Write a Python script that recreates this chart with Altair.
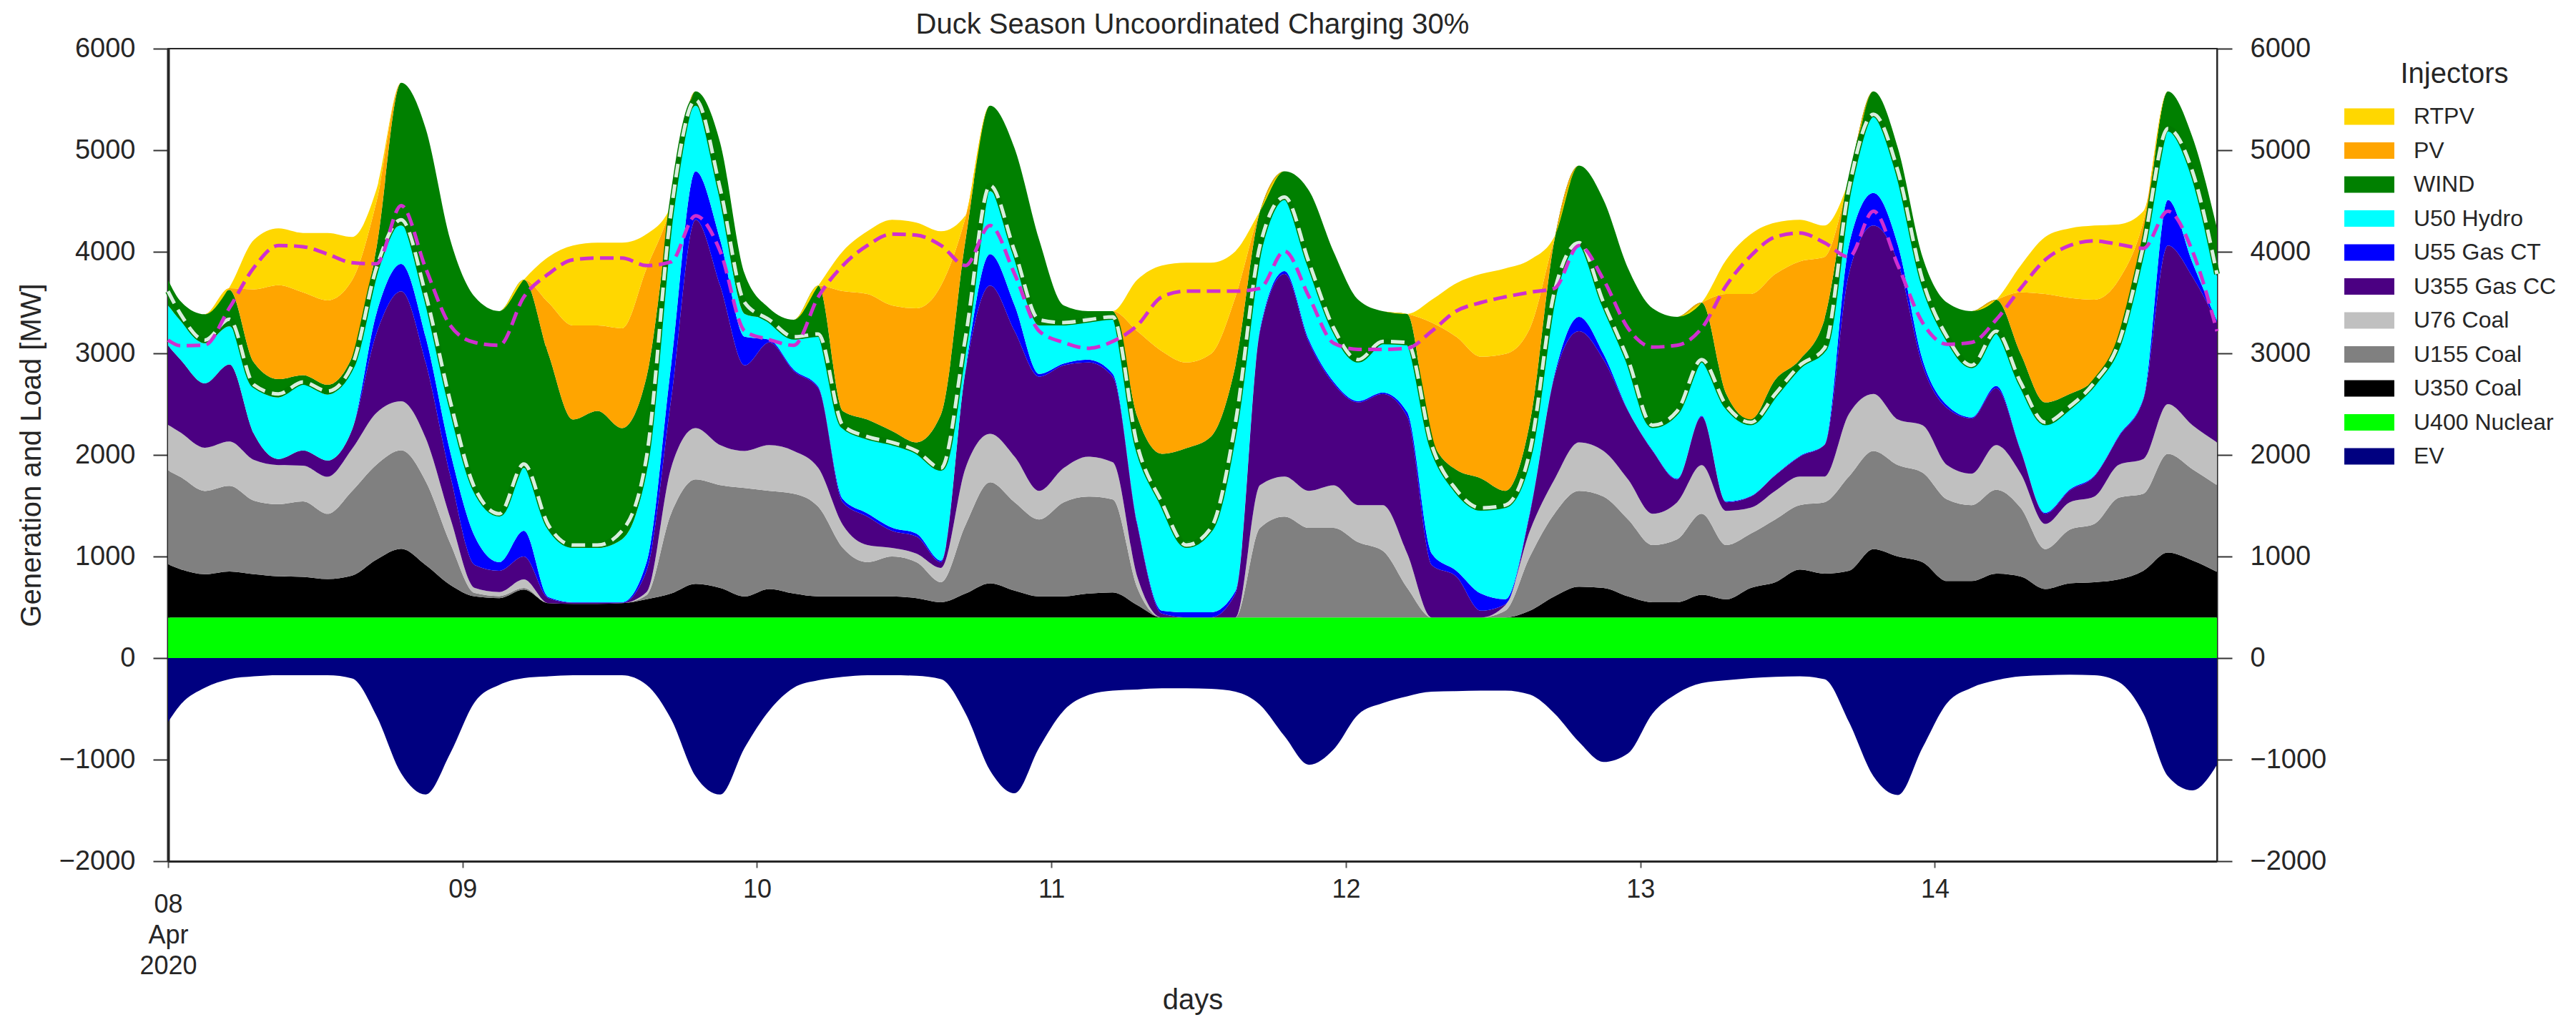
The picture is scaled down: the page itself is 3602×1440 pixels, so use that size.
import altair as alt
import pandas as pd
import numpy as np

hours = [0, 1] + list(range(3, 168, 2))

# cumulative stack tops (MW)
top_u350 = ([923, 875, 825, 852, 826, 805, 800, 778, 812, 970, 1075, 915, 720]
            + [607, 590, 674, 540, 534, 534, 540, 579, 635, 730, 691, 607]
            + [680, 635, 607, 607, 607, 607, 590, 550, 635, 736, 663, 607]
            + [607, 635, 646, 522, 400, 400, 400, 400, 400, 400, 400, 400]
            + [400, 400, 400, 400, 400, 400, 400, 466, 607, 702, 691, 607]
            + [550, 550, 624, 579, 691, 747, 871, 831, 860, 1073, 1000, 944]
            + [758, 758, 831, 803, 680, 736, 747, 775, 860, 1039, 961, 848])
top_u155 = ([1845, 1783, 1645, 1695, 1550, 1515, 1542, 1420, 1645, 1905, 2045, 1740, 1130]
            + [640, 610, 690, 540, 534, 534, 540, 620, 1421, 1758, 1702, 1674]
            + [1646, 1618, 1489, 1084, 944, 1000, 944, 747, 1309, 1730, 1534, 1365]
            + [1534, 1590, 1562, 690, 400, 400, 400, 400, 1281, 1393, 1281, 1281]
            + [1140, 1056, 691, 400, 400, 400, 466, 1000, 1421, 1646, 1590, 1365]
            + [1112, 1169, 1421, 1112, 1225, 1365, 1506, 1534, 1787, 2039, 1899, 1826]
            + [1562, 1506, 1657, 1478, 1073, 1264, 1320, 1579, 1618, 2011, 1860, 1702])
top_u76 = ([2298, 2222, 2071, 2132, 1950, 1900, 1895, 1785, 2060, 2415, 2528, 2165, 1380]
           + [690, 650, 775, 540, 534, 534, 540, 650, 1871, 2264, 2096, 2039]
           + [2096, 2039, 1871, 1309, 1112, 1084, 1028, 888, 1871, 2208, 1983, 1646]
           + [1871, 1983, 1927, 800, 400, 400, 400, 400, 1702, 1787, 1646, 1700]
           + [1506, 1506, 1028, 400, 400, 400, 522, 1253, 1758, 2124, 2039, 1758]
           + [1421, 1534, 1899, 1449, 1480, 1646, 1787, 1787, 2404, 2601, 2348, 2292]
           + [1899, 1815, 2096, 1815, 1320, 1534, 1590, 1904, 1960, 2500, 2292, 2124])
top_u355 = ([3075, 2940, 2704, 2890, 2208, 1960, 2044, 1945, 2250, 3200, 3611, 2910, 1800]
            + [916, 860, 1000, 590, 545, 545, 545, 860, 2545, 4315, 3668, 2882]
            + [3107, 2826, 2657, 1534, 1393, 1253, 1197, 944, 2826, 3668, 3219, 2770]
            + [2882, 2910, 2770, 1309, 438, 400, 400, 635, 3219, 3781, 3107, 2700]
            + [2517, 2601, 2376, 916, 803, 466, 530, 1421, 2770, 3219, 2938, 2432]
            + [2039, 1758, 2376, 1534, 1590, 1800, 1983, 2096, 3781, 4258, 3893, 2882]
            + [2461, 2360, 2657, 2039, 1421, 1650, 1787, 2180, 2545, 4062, 3753, 3303])
top_u55 = ([3075, 2940, 2704, 2890, 2208, 1960, 2044, 1945, 2250, 3400, 3880, 3160, 2030]
           + [1197, 944, 1253, 600, 550, 550, 550, 944, 2882, 4792, 4118, 3163]
           + [3135, 2840, 2670, 1565, 1425, 1285, 1225, 960, 2840, 3977, 3472, 2798]
           + [2900, 2938, 2798, 1330, 466, 450, 450, 660, 3240, 3809, 3130, 2720]
           + [2530, 2615, 2420, 1028, 860, 635, 579, 1440, 2790, 3360, 2994, 2440]
           + [2045, 1765, 2385, 1540, 1595, 1805, 1990, 2100, 4062, 4580, 4062, 2938]
           + [2489, 2370, 2680, 2050, 1430, 1660, 1795, 2190, 2560, 4511, 3893, 3320])
top_u50 = ([3474, 3322, 3100, 3266, 2675, 2566, 2704, 2593, 2855, 3860, 4258, 3555, 2530]
           + [1646, 1421, 1871, 1309, 1084, 1084, 1169, 1871, 4287, 5438, 4511, 3388]
           + [3331, 3163, 3191, 2264, 2180, 2124, 2067, 1871, 3219, 4596, 3949, 3275]
           + [3275, 3360, 3360, 2096, 1590, 1140, 1253, 2320, 4062, 4511, 3893, 3230]
           + [2950, 3100, 3090, 2060, 1640, 1460, 1490, 2010, 3590, 4060, 3480, 2920]
           + [2270, 2410, 2920, 2470, 2300, 2580, 2860, 3030, 4600, 5330, 4770, 3700]
           + [3140, 2860, 3200, 2700, 2300, 2460, 2700, 3090, 4040, 5200, 4770, 3760])
top_wind = ([3722, 3516, 3385, 3625, 2910, 2746, 2786, 2690, 2965, 4050, 5663, 5213, 4118]
            + [3556, 3416, 3725, 2994, 2348, 2433, 2264, 2770, 4455, 5579, 5073, 3781]
            + [3444, 3331, 3668, 2432, 2348, 2236, 2124, 2400, 4118, 5438, 5017, 4118]
            + [3472, 3416, 3416, 2376, 2011, 2067, 2180, 2882, 4399, 4792, 4600, 4000]
            + [3528, 3416, 3388, 2150, 1854, 1770, 1646, 2320, 4118, 4848, 4511, 3837]
            + [3444, 3360, 3500, 2601, 2348, 2742, 2938, 3331, 4700, 5579, 5017, 3949]
            + [3500, 3416, 3528, 2994, 2517, 2601, 2742, 3135, 4100, 5579, 5129, 4230])
top_pv = ([3722, 3516, 3385, 3640, 3630, 3670, 3600, 3522, 3720, 4500, 5663, 5213, 4118]
          + [3556, 3416, 3725, 3500, 3275, 3275, 3247, 3837, 4455, 5579, 5073, 3781]
          + [3444, 3331, 3668, 3612, 3584, 3472, 3444, 3668, 4340, 5438, 5017, 4118]
          + [3472, 3416, 3416, 3219, 3022, 2910, 2994, 3556, 4399, 4792, 4600, 4000]
          + [3528, 3416, 3388, 3303, 3163, 2966, 2994, 3247, 4130, 4848, 4511, 3837]
          + [3444, 3360, 3500, 3584, 3584, 3781, 3905, 3949, 4700, 5579, 5017, 3949]
          + [3500, 3416, 3528, 3601, 3584, 3545, 3528, 3725, 4300, 5579, 5129, 4230])
top_rtpv = ([3722, 3516, 3385, 3650, 4118, 4230, 4185, 4185, 4146, 4620, 5663, 5213, 4118]
            + [3556, 3416, 3725, 3949, 4062, 4090, 4090, 4174, 4455, 5579, 5073, 3781]
            + [3444, 3331, 3668, 4006, 4202, 4315, 4287, 4202, 4360, 5438, 5017, 4118]
            + [3472, 3416, 3416, 3725, 3865, 3893, 3893, 4006, 4399, 4792, 4600, 4000]
            + [3528, 3416, 3388, 3528, 3691, 3781, 3837, 3921, 4150, 4848, 4511, 3837]
            + [3444, 3360, 3500, 3921, 4174, 4287, 4315, 4258, 4700, 5579, 5017, 3949]
            + [3500, 3416, 3528, 3865, 4146, 4230, 4258, 4270, 4400, 5579, 5129, 4230])
nuclear_mw = [400] * len(hours)

# EV charging (negative injection, MW)
ev_mw = ([-629, -461, -292, -208, -180, -169, -169, -169, -200, -573, -1135, -1343, -938]
         + [-433, -264, -197, -180, -169, -169, -169, -264, -601, -1163, -1343, -882]
         + [-517, -292, -219, -185, -169, -169, -175, -208, -545, -1107, -1331, -882]
         + [-517, -365, -320, -309, -298, -298, -303, -331, -461, -770, -1051, -900]
         + [-556, -444, -376, -331, -326, -320, -320, -360, -545, -826, -1023, -938]
         + [-545, -348, -247, -219, -197, -185, -180, -208, -629, -1163, -1348, -882]
         + [-444, -292, -219, -180, -169, -163, -169, -236, -545, -1163, -1303, -1051])

# load lines (MW)
load_total = ([3611, 3390, 3130, 3336, 2690, 2601, 2718, 2628, 2883, 3850, 4315, 3580, 2530]
              + [1674, 1421, 1910, 1309, 1112, 1112, 1253, 1983, 4399, 5494, 4624, 3500]
              + [3331, 3163, 3191, 2292, 2180, 2124, 2039, 1871, 3163, 4652, 4006, 3331]
              + [3303, 3331, 3360, 2096, 1534, 1112, 1281, 2320, 4062, 4539, 3893, 3250]
              + [2938, 3118, 3107, 2095, 1657, 1478, 1506, 2039, 3612, 4090, 3500, 2938]
              + [2292, 2432, 2938, 2489, 2320, 2601, 2882, 3050, 4624, 5354, 4792, 3725]
              + [3163, 2882, 3219, 2713, 2320, 2478, 2713, 3107, 4062, 5213, 4792, 3781])
load_base = ([3130, 3075, 3082, 3447, 3845, 4062, 4050, 3977, 3893, 3882, 4455, 3837, 3275]
             + [3107, 3079, 3556, 3781, 3921, 3938, 3938, 3865, 3900, 4354, 4006, 3219]
             + [3135, 3079, 3556, 3865, 4062, 4174, 4163, 4062, 3865, 4258, 3781, 3219]
             + [3107, 3050, 3118, 3275, 3556, 3612, 3612, 3612, 3640, 4006, 3556, 3100]
             + [3039, 3039, 3050, 3219, 3416, 3500, 3556, 3601, 3640, 4062, 3725, 3247]
             + [3062, 3079, 3247, 3668, 3960, 4146, 4185, 4090, 3949, 4399, 3865, 3303]
             + [3090, 3107, 3331, 3640, 3921, 4062, 4107, 4073, 4034, 4399, 4006, 3219])

legend_order = ["RTPV", "PV", "WIND", "U50 Hydro", "U55 Gas CT", "U355 Gas CC",
                "U76 Coal", "U155 Coal", "U350 Coal", "U400 Nuclear", "EV"]
legend_colors = ["#FFD700", "#FFA500", "#008000", "#00FFFF", "#0000FF", "#4B0082",
                 "#C0C0C0", "#808080", "#000000", "#00FF00", "#000080"]

day_ticks = [0, 24, 48, 72, 96, 120, 144]
day_labels = ["08", "09", "10", "11", "12", "13", "14"]
first_label = ["08", "Apr", "2020"]

# ---- build area bands (lower / upper boundaries) ----
zeros = np.zeros(len(hours))
stack = [("U400 Nuclear", nuclear_mw), ("U350 Coal", top_u350), ("U155 Coal", top_u155),
         ("U76 Coal", top_u76), ("U355 Gas CC", top_u355), ("U55 Gas CT", top_u55),
         ("U50 Hydro", top_u50), ("WIND", top_wind), ("PV", top_pv), ("RTPV", top_rtpv)]
frames = []
lo = zeros.copy()
for name, top in stack:
    hi = np.maximum(np.array(top, dtype=float), lo)
    frames.append(pd.DataFrame({"hour": hours, "series": name, "lo": lo, "hi": hi}))
    lo = hi
frames.append(pd.DataFrame({"hour": hours, "series": "EV", "lo": ev_mw, "hi": zeros}))
bands = pd.concat(frames, ignore_index=True)

lines = pd.DataFrame({"hour": hours, "load_total": load_total, "load_base": load_base})

FONT = "Liberation Sans"
TXT = "#262626"

label_expr = "datum.value == 0 ? " + str(first_label)
for t, l in zip(day_ticks[1:], day_labels[1:]):
    label_expr += f" : datum.value == {t} ? '{l}'"
label_expr += " : ''"

x_enc = alt.X("hour:Q",
              scale=alt.Scale(domain=[0, 167], nice=False, zero=False),
              axis=alt.Axis(values=day_ticks, labelExpr=label_expr, title="days",
                            grid=False, tickSize=9, tickWidth=2, tickColor="#555",
                            domainWidth=3, domainColor=TXT,
                            labelFontSize=36, labelColor=TXT, labelFont=FONT,
                            labelLineHeight=43, labelFlush=False, labelOverlap=False,
                            labelPadding={"condition": {"test": "datum.value == 0", "value": 34},
                                          "value": 13},
                            titleFontSize=40, titleFontWeight="normal", titleColor=TXT,
                            titleFont=FONT, titlePadding=10))

yscale = alt.Scale(domain=[-2000, 6000], nice=False, zero=False)
yvals = list(range(-2000, 6001, 1000))

left_axis = alt.Axis(values=yvals, format="d", grid=False, tickSize=21, tickWidth=2,
                     tickColor="#333", domainWidth=4, domainColor=TXT,
                     labelFontSize=38, labelColor=TXT, labelFont=FONT, labelPadding=25,
                     labelFlush=False, title="Generation and Load [MW]",
                     titleFontSize=40, titleFontWeight="normal", titleColor=TXT,
                     titleFont=FONT, titlePadding=18)
right_axis = alt.Axis(values=yvals, format="d", grid=False, orient="right", tickSize=21,
                      tickWidth=2, tickColor="#333", domainWidth=2, domainColor=TXT,
                      labelFontSize=38, labelColor=TXT, labelFont=FONT, labelPadding=25,
                      labelFlush=False, title=None)

areas = alt.Chart(bands).mark_area(interpolate="monotone", opacity=1).encode(
    x=x_enc,
    y=alt.Y("lo:Q", scale=yscale, axis=left_axis),
    y2="hi:Q",
    color=alt.Color("series:N",
                    scale=alt.Scale(domain=legend_order, range=legend_colors),
                    legend=alt.Legend(title="Injectors", orient="none",
                                      legendX=3055, legendY=16,
                                      symbolType="M-1.52,-0.5H1.52V0.5H-1.52Z",
                                      symbolSize=2116, symbolStrokeWidth=0,
                                      symbolOpacity=1, labelOffset=39, labelLimit=500,
                                      labelFontSize=32, labelColor=TXT, labelFont=FONT,
                                      titleFontSize=40, titleFontWeight="normal",
                                      titleColor=TXT, titleFont=FONT,
                                      titleAnchor="middle", titlePadding=16,
                                      rowPadding=8.5)),
    detail="series:N",
)

load_green = alt.Chart(lines).mark_line(color="#007a00", strokeWidth=8,
                                        interpolate="monotone").encode(
    x=x_enc, y=alt.Y("load_total:Q", scale=yscale, axis=right_axis))
load_dash = alt.Chart(lines).mark_line(color="#d8eede", strokeWidth=5, strokeDash=[19, 10],
                                       interpolate="monotone").encode(
    x=x_enc, y=alt.Y("load_total:Q", scale=yscale, axis=None))
load_mag = alt.Chart(lines).mark_line(color="#cf2fcf", strokeWidth=5, strokeDash=[19, 9],
                                      interpolate="monotone").encode(
    x=x_enc, y=alt.Y("load_base:Q", scale=yscale, axis=None))

chart = alt.layer(areas, load_green, load_dash, load_mag).resolve_scale(
    y="independent"
).properties(
    width=2865, height=1136,
    padding={"left": 227, "top": 60, "right": 490, "bottom": 228},
    autosize=alt.AutoSizeParams(type="none"),
    title=alt.TitleParams("Duck Season Uncoordinated Charging 30%", fontSize=40,
                          fontWeight="normal", anchor="middle", offset=0, dy=38,
                          baseline="alphabetic", color=TXT, font=FONT),
).configure(font=FONT).configure_view(stroke=TXT, strokeWidth=2)

chart.save("out.html", embed_options={"renderer": "svg", "actions": False})
